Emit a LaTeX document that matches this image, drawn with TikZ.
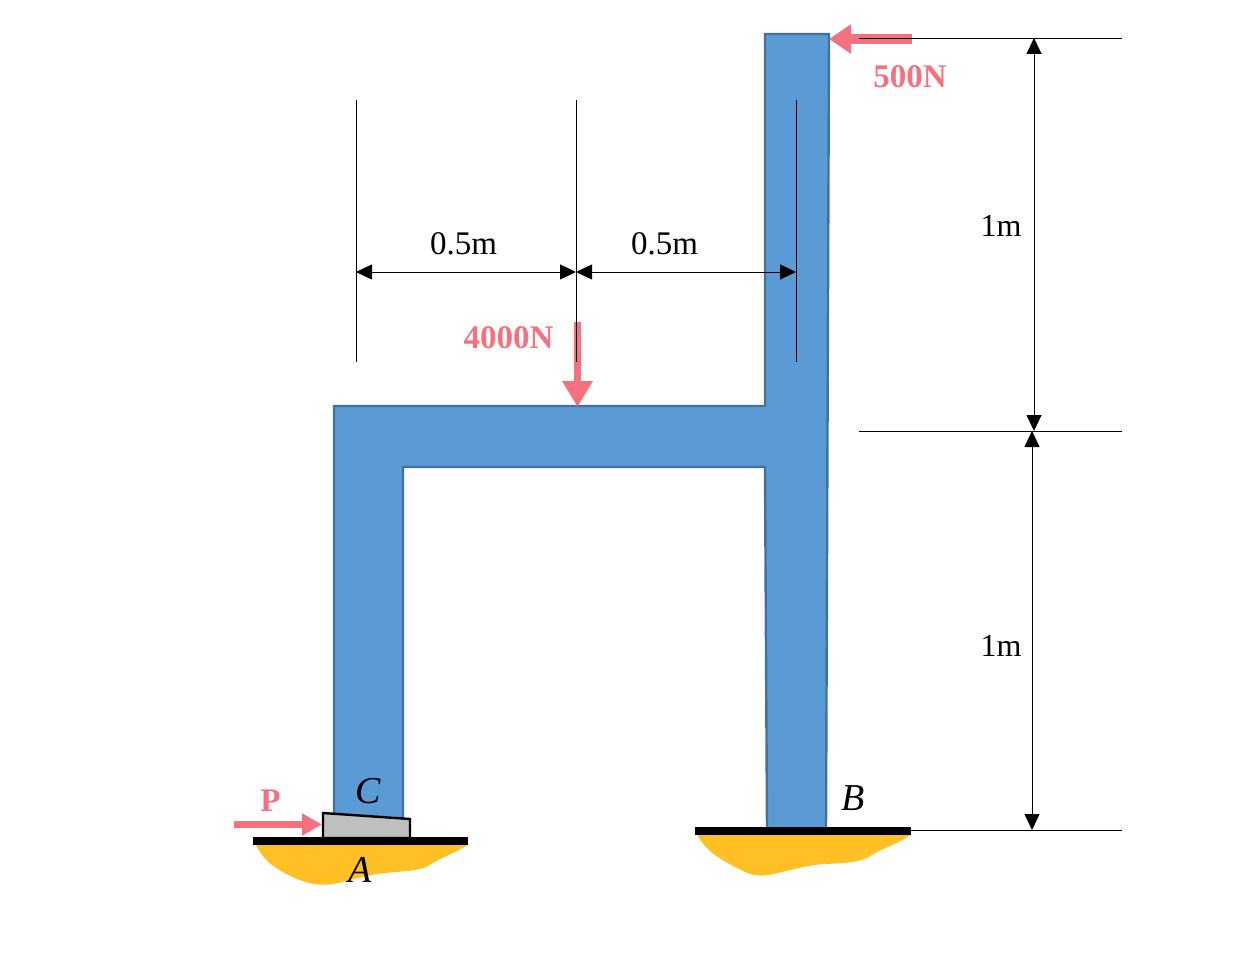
\documentclass[tikz,border=0pt]{standalone}
\usepackage{fontspec}
\setmainfont{Liberation Serif}
\usetikzlibrary{arrows.meta}
\definecolor{beam}{HTML}{5B9BD5}
\definecolor{beamedge}{HTML}{41719C}
\definecolor{force}{HTML}{F4717F}
\definecolor{soil}{HTML}{FFC026}
\definecolor{wedgefill}{HTML}{BFBFBF}
\tikzset{
  x=1pt,y=-1pt,
  dimline/.style={draw=black,line width=0.9pt},
  dimarrow/.style={dimline,{Triangle[length=16pt,width=15pt]}-{Triangle[length=16pt,width=15pt]}},
  dimtext/.style={font=\fontsize{32}{36}\selectfont,inner sep=0pt,text=black},
  spantext/.style={font=\fontsize{33}{36}\selectfont,inner sep=0pt,text=black},
  forcetext/.style={font=\fontsize{33}{36}\selectfont\bfseries,inner sep=0pt,text=force},
  pointtext/.style={font=\fontsize{38}{40}\selectfont\itshape,inner sep=0pt,text=black},
  bigforce/.style={draw=force,line width=10pt,-{Triangle[length=22pt,width=28pt]}},
  midforce/.style={draw=force,line width=7.5pt,-{Triangle[length=26pt,width=29pt]}},
  smallforce/.style={draw=force,line width=7pt,-{Triangle[length=20pt,width=21pt]}},
  bar/.style={fill=black,draw=none},
  soilfill/.style={fill=soil,draw=none},
}
\begin{document}
\begin{tikzpicture}
\useasboundingbox (0,0) rectangle (1241,973);
\fill[white] (0,0) rectangle (1241,973);

% ground
\fill[soilfill] (255,843) .. controls (262,858) and (272,868) .. (295,878)
  .. controls (308,884) and (320,886) .. (333,884)
  .. controls (350,881) and (365,875) .. (385,873)
  .. controls (405,871) and (418,871) .. (428,866)
  .. controls (440,858) and (455,853) .. (468,845) -- cycle;
\fill[soilfill] (697,834) .. controls (705,850) and (718,858) .. (735,867)
  .. controls (748,874) and (756,877) .. (768,875)
  .. controls (785,872) and (805,865) .. (825,864)
  .. controls (848,863) and (862,862) .. (872,855)
  .. controls (885,847) and (900,843) .. (910,835) -- cycle;

% frame
\draw[fill=beam,draw=beamedge,line width=2.4pt,line join=miter]
  (334,820) -- (334,406) -- (765,406) -- (765,34) -- (829,34) -- (826,829)
  -- (767,829) -- (765,467) -- (403,467) -- (403,820) -- cycle;

% bars and wedge
\fill[bar] (253,837) rectangle (468,845);
\fill[bar] (695,827) rectangle (911,835);
\draw[fill=wedgefill,draw=black,line width=2.4pt] (323,813) -- (410,819) -- (410,838) -- (323,838) -- cycle;

% forces
\coordinate (f5a) at (912,39);
\coordinate (f5b) at (829,39);
\coordinate (f4a) at (577.5,322);
\coordinate (f4b) at (577.5,407);
\coordinate (fpa) at (234,824.5);
\coordinate (fpb) at (322,824.5);
\draw[bigforce] (f5a) -- (f5b);
\draw[midforce] (f4a) -- (f4b);
\draw[smallforce] (fpa) -- (fpb);

% extension lines
\coordinate (v1t) at (356,100); \coordinate (v1b) at (356,362);
\coordinate (v2t) at (576,100); \coordinate (v2b) at (576,362);
\coordinate (v3t) at (796.5,100); \coordinate (v3b) at (796.5,362);
\coordinate (h1l) at (859,38); \coordinate (h1r) at (1122,38);
\coordinate (h2l) at (859,431); \coordinate (h2r) at (1122,431);
\coordinate (h3l) at (911,830); \coordinate (h3r) at (1122,830);
\draw[dimline] (v1t) -- (v1b);
\draw[dimline] (v2t) -- (v2b);
\draw[dimline] (v3t) -- (v3b);
\draw[dimline] (h1l) -- (h1r);
\draw[dimline] (h2l) -- (h2r);
\draw[dimline] (h3l) -- (h3r);

% dimension arrows
\coordinate (d1) at (356,272); \coordinate (d2) at (576,272); \coordinate (d3) at (796,272);
\coordinate (d4) at (1034,38); \coordinate (d5) at (1034,431);
\coordinate (d6) at (1032,431); \coordinate (d7) at (1032,830);
\draw[dimarrow] (d1) -- (d2);
\draw[dimarrow] (d2) -- (d3);
\draw[dimarrow] (d4) -- (d5);
\draw[dimarrow] (d6) -- (d7);

% labels
\node[spantext] (l1) at (463.5,243.5) {0.5m};
\node[spantext] (l2) at (664.5,243.5) {0.5m};
\node[dimtext] (l3) at (1001,226) {1m};
\node[dimtext] (l4) at (1001,646) {1m};
\node[forcetext] (l5) at (508.5,337.5) {4000N};
\node[forcetext] (l6) at (910,76.5) {500N};
\node[forcetext] (l7) at (270.5,801) {P};
\node[pointtext] (l8) at (368.5,791) {C};
\node[pointtext] (l9) at (360,870) {A};
\node[pointtext] (l10) at (853,798.5) {B};
\end{tikzpicture}
\end{document}
